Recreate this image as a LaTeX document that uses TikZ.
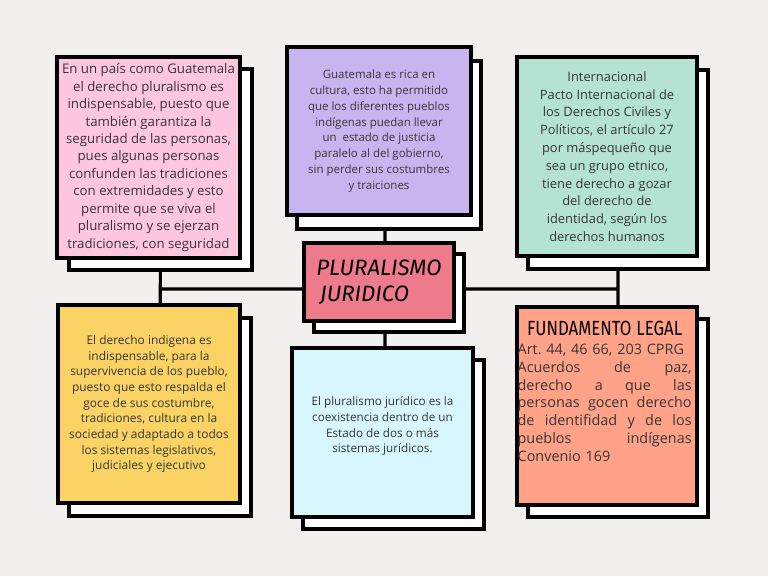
\documentclass[tikz,border=0pt]{standalone}
\usepackage{fontspec}
\setmainfont{Open Sans}
\newfontfamily\headfont{Fira Sans}[FakeStretch=0.82]
\newfontfamily\titlefont{Fira Sans}
\usetikzlibrary{positioning, calc, backgrounds}
\definecolor{paper}{HTML}{F1F0EF}
\definecolor{ink}{HTML}{363636}
\definecolor{pinkc}{HTML}{FFC6E0}
\definecolor{lilac}{HTML}{C8B4EF}
\definecolor{mint}{HTML}{B4E2D3}
\definecolor{rose}{HTML}{EE7B8B}
\definecolor{sun}{HTML}{FBD365}
\definecolor{sky}{HTML}{D8F6FD}
\definecolor{salmon}{HTML}{FFA288}
\newlength{\salwidth}
\setlength{\salwidth}{5.22cm}
\newcommand{\fullline}[1]{\leavevmode\hbox to \salwidth{#1}}

\begin{document}
\begin{tikzpicture}[x=0.03cm, y=-0.03cm]
        \tikzstyle{card}=[draw=black, line width=3pt, rectangle, inner sep=1pt, text=ink, align=center];
        \tikzstyle{backcard}=[card, fill=white];
        \tikzstyle{link}=[draw=black, line width=2.6pt];

        \useasboundingbox (0,0) rectangle (768,576);

        \node[backcard, minimum width=183*0.03cm, minimum height=201*0.03cm] (pinkshadow) at (160.5,169.5) {};
        \node[card, fill=pinkc, minimum width=183*0.03cm, minimum height=201*0.03cm,
              font=\fontsize{11.3}{14.9}\selectfont] (pink) at (148.5,157.5)
              {En un país como Guatemala\\ el derecho pluralismo es\\ indispensable, puesto que\\ también garantiza la\\ seguridad de las personas,\\ pues algunas personas\\ confunden las tradiciones\\ con extremidades y esto\\ permite que se viva el\\ pluralismo y se ejerzan\\ tradiciones, con seguridad};

        \node[backcard, minimum width=184*0.03cm, minimum height=168*0.03cm] (purpleshadow) at (389,145) {};
        \node[card, fill=lilac, minimum width=184*0.03cm, minimum height=168*0.03cm,
              font=\fontsize{9.8}{13.6}\selectfont] (purple) at (379,131)
              {Guatemala es rica en\\ cultura, esto ha permitido\\ que los diferentes pueblos\\ indígenas puedan llevar\\ un\ \ estado de justicia\\ paralelo al del gobierno,\\ sin perder sus costumbres\\ y traiciones};

        \node[backcard, minimum width=180*0.03cm, minimum height=199*0.03cm] (greenshadow) at (618,169.5) {};
        \node[card, fill=mint, minimum width=180*0.03cm, minimum height=199*0.03cm,
              font=\fontsize{11}{15.2}\selectfont] (green) at (607,156.5)
              {Internacional\\ Pacto Internacional de\\ los Derechos Civiles y\\ Políticos, el artículo 27\\ por máspequeño que\\ sea un grupo etnico,\\ tiene derecho a gozar\\ del derecho de\\ identidad, según los\\ derechos humanos};

        \node[backcard, minimum width=150*0.03cm, minimum height=78*0.03cm] (roseshadow) at (389,293) {};
        \node[card, fill=rose, minimum width=150*0.03cm, minimum height=78*0.03cm, align=left,
              font=\titlefont\itshape\fontsize{19}{22}\selectfont, text=black] (rose) at (379,282)
              {PLURALISMO\\ \,JURIDICO};

        \node[backcard, minimum width=182*0.03cm, minimum height=198*0.03cm] (yellowshadow) at (160,417) {};
        \node[card, fill=sun, minimum width=182*0.03cm, minimum height=198*0.03cm,
              font=\fontsize{10.2}{13.4}\selectfont] (yellow) at (149,404)
              {El derecho indigena es\\ indispensable, para la\\ supervivencia de los pueblo,\\ puesto que esto respalda el\\ goce de sus costumbre,\\ tradiciones, cultura en la\\ sociedad y adaptado a todos\\ los sistemas legislativos,\\ judiciales y ejecutivo};

        \node[backcard, minimum width=181*0.03cm, minimum height=169*0.03cm] (skyshadow) at (393.5,444.5) {};
        \node[card, fill=sky, minimum width=181*0.03cm, minimum height=169*0.03cm,
              font=\fontsize{10}{13.3}\selectfont] (sky) at (382.5,432.5)
              {El pluralismo jurídico es la\\ coexistencia dentro de un\\ Estado de dos o más\\ sistemas jurídicos.\\ \rule{0pt}{4pt}};

        \node[backcard, minimum width=180*0.03cm, minimum height=198*0.03cm] (salmonshadow) at (618,418) {};
        \node[card, fill=salmon, minimum width=180*0.03cm, minimum height=198*0.03cm] (salmon) at (607,406) {};
        \node[below=13pt of salmon.north, xshift=-2pt, text width=\salwidth, align=left, inner sep=0pt, text=ink,
              font=\fontsize{12.3}{15.3}\selectfont\frenchspacing] (salmontext)
              {\makebox[\salwidth][c]{\headfont\fontsize{17.5}{17}\selectfont\color{black}FUNDAMENTO LEGAL}\\[1pt]
               Art. 44, 46 66, 203 CPRG\\
               \fullline{Acuerdos\hfill de\hfill paz,}\\
               \fullline{derecho\hfill a\hfill que\hfill las}\\
               \fullline{personas\hfill gocen\hfill derecho}\\
               \fullline{de\hfill identifidad\hfill y\hfill de\hfill los}\\
               \fullline{pueblos\hfill indígenas}\\
               Convenio 169};

        \coordinate (hub) at (385,289);
        \begin{scope}[on background layer]
          \fill[paper] (0,0) rectangle (768,576);
          \path[link]
          (pinkshadow) -- (yellowshadow)
          (greenshadow) -- (salmonshadow)
          (hub -| pinkshadow) -- (hub -| greenshadow)
          (hub |- purple) -- (hub |- sky);
        \end{scope}
      \end{tikzpicture}
\end{document}
